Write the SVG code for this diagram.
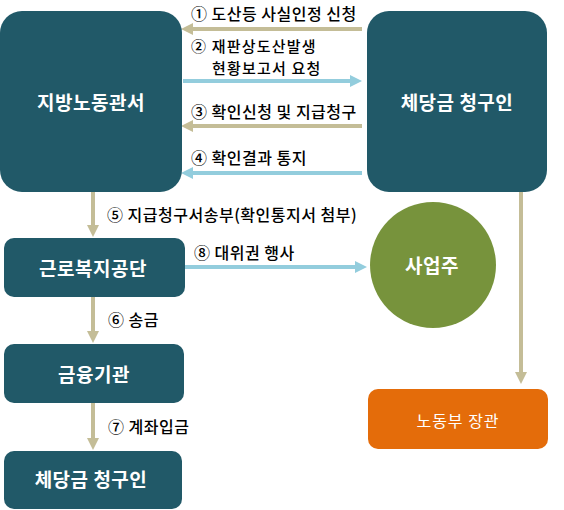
<svg xmlns="http://www.w3.org/2000/svg" width="564" height="510" viewBox="0 0 564 510">
<style>
.node{fill:#215968}
.nt{font-family:"Noto Sans CJK KR","Noto Sans",sans-serif;font-size:19px;font-weight:bold;letter-spacing:0.5px;fill:#ffffff;text-anchor:middle}
.lb{font-family:"Noto Sans CJK KR","Noto Sans",sans-serif;font-size:16px;font-weight:500;letter-spacing:0.5px;fill:#000000}
.lb2{font-size:15px;letter-spacing:1.2px}
.tan{stroke:#c4bd97;stroke-width:4;fill:none;marker-end:url(#ht)}
.blu{stroke:#93cddd;stroke-width:4;fill:none;marker-end:url(#hb)}
</style>
<defs>
<marker id="ht" markerUnits="userSpaceOnUse" markerWidth="12" markerHeight="12" refX="2" refY="6" orient="auto"><path d="M0,0 L12,6 L0,12 z" fill="#c4bd97"/></marker>
<marker id="hb" markerUnits="userSpaceOnUse" markerWidth="12" markerHeight="12" refX="2" refY="6" orient="auto"><path d="M0,0 L12,6 L0,12 z" fill="#93cddd"/></marker>
</defs>
<rect width="564" height="510" fill="#ffffff"/>
<g id="connectors">
<line class="tan" x1="362" y1="29" x2="191" y2="29"/>
<line class="blu" x1="183" y1="81" x2="352" y2="81"/>
<line class="tan" x1="362" y1="126" x2="191" y2="126"/>
<line class="blu" x1="362" y1="173" x2="191" y2="173"/>
<line class="tan" x1="93" y1="192" x2="93" y2="227"/>
<line class="tan" x1="93" y1="297" x2="93" y2="333"/>
<line class="tan" x1="93" y1="403" x2="93" y2="440"/>
<line class="blu" x1="185" y1="267" x2="357" y2="267"/>
<line class="tan" x1="521" y1="192" x2="521" y2="374"/>
<text class="lb" x="191" y="20">① 도산등 사실인정 신청</text>
<text class="lb lb2" x="191" y="52">② 재판상도산발생</text>
<text class="lb lb2" x="212" y="74">현황보고서 요청</text>
<text class="lb" x="191" y="118">③ 확인신청 및 지급청구</text>
<text class="lb" x="191" y="164">④ 확인결과 통지</text>
<text class="lb" x="107" y="221">⑤ 지급청구서송부(확인통지서 첨부)</text>
<text class="lb" x="194" y="259">⑧ 대위권 행사</text>
<text class="lb" x="108" y="326">⑥ 송금</text>
<text class="lb" x="108" y="433">⑦ 계좌입금</text>
</g>
<g id="n-office">
<rect class="node" x="0" y="11" width="182" height="181" rx="22"/>
<text class="nt" x="91" y="110">지방노동관서</text>
</g>
<g id="n-claimant-top">
<rect class="node" x="367" y="11" width="180" height="181" rx="22"/>
<text class="nt" x="457" y="110">체당금 청구인</text>
</g>
<g id="n-kcomwel">
<rect class="node" x="4" y="238" width="181" height="59" rx="10"/>
<text class="nt" x="93" y="276">근로복지공단</text>
</g>
<g id="n-employer">
<circle cx="433" cy="265" r="63" fill="#77933c"/>
<text class="nt" x="432" y="273">사업주</text>
</g>
<g id="n-bank">
<rect class="node" x="4" y="344" width="180" height="59" rx="10"/>
<text class="nt" x="94" y="382">금융기관</text>
</g>
<g id="n-claimant-bottom">
<rect class="node" x="4" y="451" width="178" height="58" rx="10"/>
<text class="nt" x="91" y="487">체당금 청구인</text>
</g>
<g id="n-minister">
<rect x="368" y="389" width="180" height="60" rx="10" fill="#e46c0a"/>
<text x="458" y="427" font-family="'Noto Sans CJK KR','Noto Sans',sans-serif" font-size="16" letter-spacing="1" fill="#ffffff" text-anchor="middle">노동부 장관</text>
</g>
</svg>
